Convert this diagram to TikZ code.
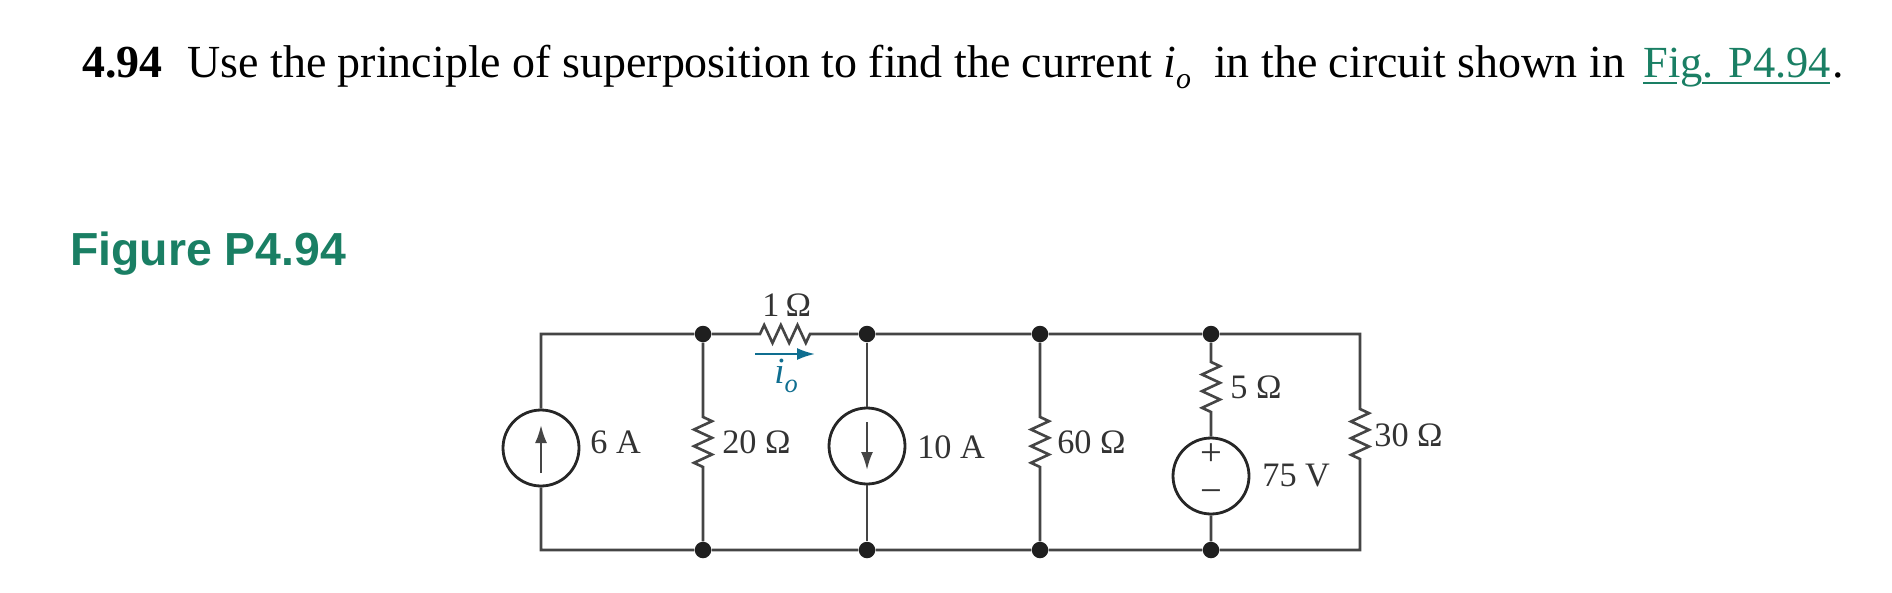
\documentclass[tikz,border=0pt]{standalone}
\usepackage{fontspec}
\setmainfont{Liberation Serif}
\newfontfamily\figfont{Liberation Sans}
\usetikzlibrary{arrows.meta}
\definecolor{figgreen}{HTML}{1A7F64}
\definecolor{curblue}{HTML}{0F6E90}
\definecolor{wiregray}{HTML}{454545}
% resistor zigzags, 3 periods over 50 units
\newcommand{\zigv}{-- ++(9,4.17) -- ++(-18,8.33) -- ++(18,8.33) -- ++(-18,8.33) -- ++(18,8.33) -- ++(-18,8.33) -- ++(9,4.17)}
\newcommand{\zigh}{-- ++(4.17,-9) -- ++(8.33,18) -- ++(8.33,-18) -- ++(8.33,18) -- ++(8.33,-18) -- ++(8.33,18) -- ++(4.17,-9)}
\tikzset{
  wire/.style={draw=wiregray, line width=1.5pt, line join=miter},
  dot/.style={circle, fill=black!88, inner sep=0pt, minimum size=0.33cm},
  src/.style={circle, draw=black!85, line width=1.6pt, inner sep=0pt, minimum size=1.52cm},
  val/.style={anchor=base west, inner sep=0pt, text=black!80, font=\fontsize{19.5}{22}\selectfont},
  pol/.style={anchor=center, inner sep=0pt, text=black!80, font=\fontsize{22}{24}\selectfont},
  line/.style={anchor=base west, inner sep=0pt, font=\fontsize{26.15}{30}\selectfont},
  tip/.style={-{Latex[length=0.36cm, width=0.24cm]}}
}
\begin{document}
\begin{tikzpicture}[x=0.02cm, y=-0.02cm]
\useasboundingbox (0,0) rectangle (1892,592);
% text
\node[line, font=\fontsize{26.15}{30}\selectfont\bfseries] (num) at (82,77) {4.94};
\node[line] (txt) at (187,77) {Use the principle of superposition to find the current \textit{i}\raisebox{-0.25em}{\fontsize{17}{20}\selectfont\textit{o}}\hspace{0.5em}in the circuit shown in};
\node[line, text=figgreen, font=\fontsize{25.3}{30}\selectfont] (fig) at (1643,77) {Fig. P4.94};
\node[line] (stop) at (1832,77) {.};
\coordinate (u1) at (1643,83);
\coordinate (u2) at (1677,83);
\coordinate (u3) at (1702,83);
\coordinate (u4) at (1830,83);
\draw[figgreen, line width=1pt] (u1) -- (u2) (u3) -- (u4);
\node[anchor=base west, inner sep=0pt, text=figgreen, font=\fontsize{26.4}{30}\figfont\bfseries] (title) at (70,265) {Figure P4.94};
% corners
\coordinate (tl) at (541,334);
\coordinate (tr) at (1360,334);
\coordinate (bl) at (541,550);
\coordinate (br) at (1360,550);
% junctions
\node[dot] (ta) at (703,334) {};
\node[dot] (tc) at (867,334) {};
\node[dot] (td) at (1040,334) {};
\node[dot] (te) at (1211,334) {};
\node[dot] (ba) at (703,550) {};
\node[dot] (bc) at (867,550) {};
\node[dot] (bd) at (1040,550) {};
\node[dot] (be) at (1211,550) {};
% sources
\node[src] (s6) at (541,448) {};
\node[src] (s10) at (867,446) {};
\node[src] (s75) at (1211,476) {};
% resistor starts
\coordinate (r1a) at (760,334);
\coordinate (r20a) at (703,417);
\coordinate (r60a) at (1040,417);
\coordinate (r5a) at (1211,362);
\coordinate (r30a) at (1360,409);
% wires
\draw[wire] (s6) -- (tl) -- (ta) -- (r1a) \zigh -- (tc) -- (td) -- (te) -- (tr) -- (r30a) \zigv -- (br) -- (be) -- (bd) -- (bc) -- (ba) -- (bl) -- (s6);
\draw[wire] (ta) -- (r20a) \zigv -- (ba);
\draw[wire] (tc) -- (s10) -- (bc);
\draw[wire] (td) -- (r60a) \zigv -- (bd);
\draw[wire] (te) -- (r5a) \zigv -- (s75) -- (be);
% source arrows
\coordinate (a6a) at (541,473);
\coordinate (a6b) at (541,425);
\coordinate (a10a) at (867,422);
\coordinate (a10b) at (867,470);
\draw[wiregray, line width=1.3pt, tip] (a6a) -- (a6b);
\draw[wiregray, line width=1.3pt, tip] (a10a) -- (a10b);
% current arrow
\coordinate (ioa) at (755,354);
\coordinate (iob) at (815,354);
\draw[curblue, line width=1.2pt, tip] (ioa) -- (iob);
\node[val, text=curblue, font=\fontsize{21}{24}\selectfont\itshape] (io) at (774,383) {i\raisebox{-0.25em}{\fontsize{15}{17}\selectfont o}};
% polarity
\node[pol] (plus) at (1211,455) {+};
\node[pol] (minus) at (1211,497) {\textminus};
% values
\node[val] (v1) at (762,316) {1\hspace{0.18em}Ω};
\node[val] (v6) at (590,453) {6 A};
\node[val] (v20) at (722,453) {20 Ω};
\node[val] (v10) at (917,458) {10 A};
\node[val] (v60) at (1057,453) {60 Ω};
\node[val] (v5) at (1230,398) {5 Ω};
\node[val] (v75) at (1262,486) {75 V};
\node[val] (v30) at (1374,446) {30 Ω};
\end{tikzpicture}
\end{document}
